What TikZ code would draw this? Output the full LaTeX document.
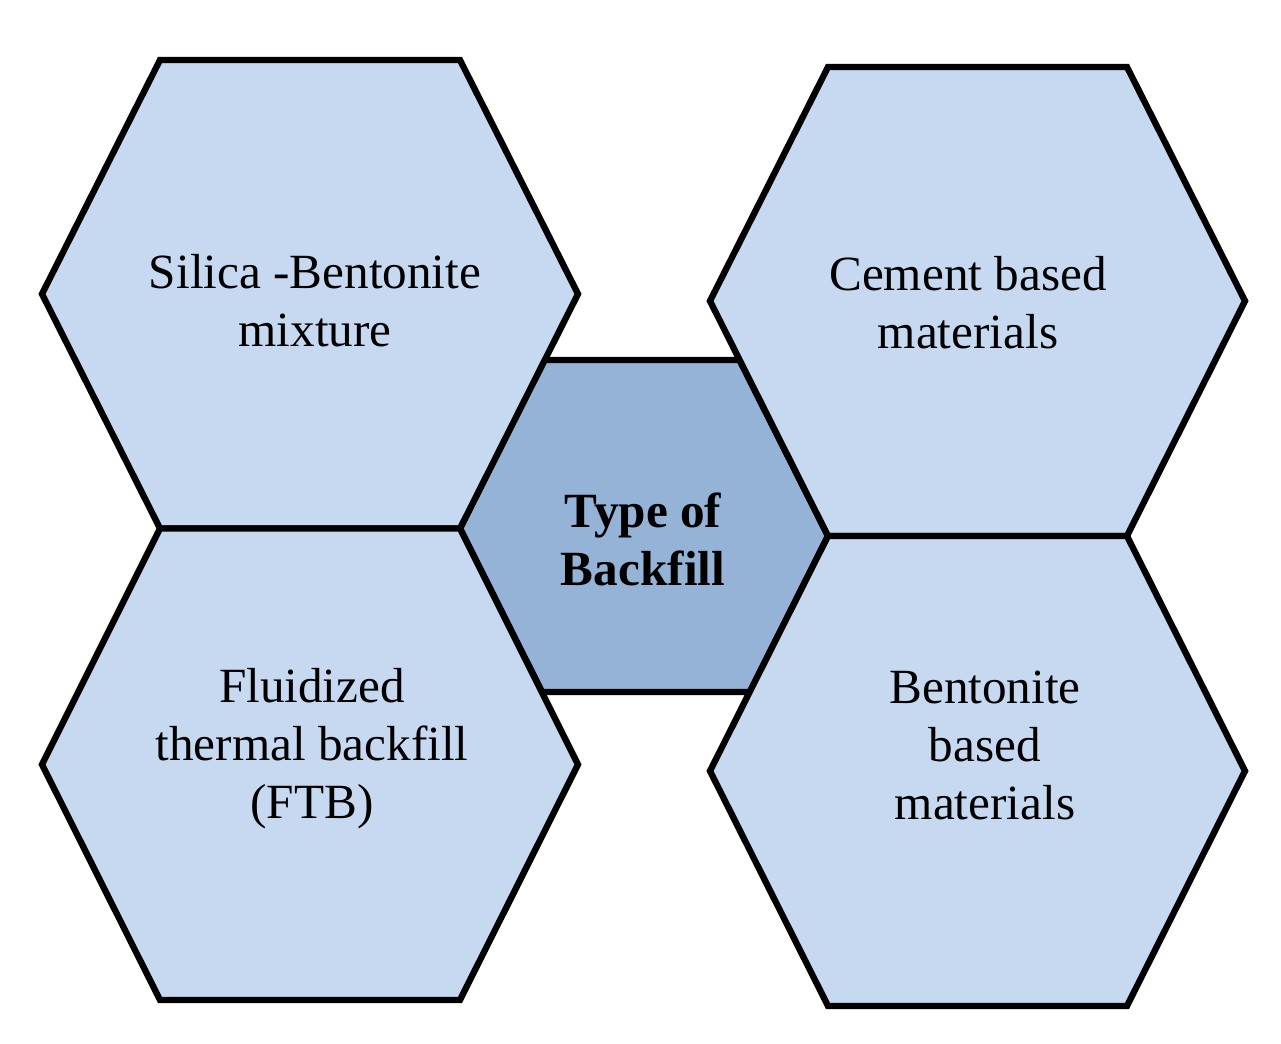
\documentclass[tikz,border=0pt]{standalone}
\usepackage{fontspec}
\setmainfont{Liberation Serif}
\usepackage{tikz}
\usetikzlibrary{positioning}
\definecolor{hexlight}{HTML}{C6D9F0}
\definecolor{hexdark}{HTML}{95B3D7}
\tikzset{
  hexbox/.style={draw=black, line width=3.6pt, fill=hexlight},
  corebox/.style={draw=black, line width=3.6pt, fill=hexdark},
  lbl/.style={font=\fontsize{28}{33}\selectfont, align=center, inner sep=0pt},
  corelbl/.style={font=\fontsize{28}{33}\selectfont\bfseries, align=center, inner sep=0pt},
}

\begin{document}
\begin{tikzpicture}
  \useasboundingbox (0,0) rectangle (25.62,20.88);

  % --- Centre hexagon ---
  \draw[corebox] (9.2,10.31) -- (10.88,13.68) -- (14.79,13.68) -- (16.56,10.16)
    -- (15.0,7.04) -- (10.84,7.04) -- cycle;

  % --- Left column ---
  \draw[hexbox] (0.84,15.0) -- (3.2,19.68) -- (9.2,19.68) -- (11.56,15.0)
    -- (9.2,10.31) -- (3.2,10.31) -- cycle;
  \draw[hexbox] (0.84,5.59) -- (3.2,10.31) -- (9.2,10.31) -- (11.56,5.59)
    -- (9.2,0.88) -- (3.2,0.88) -- cycle;

  % --- Right column ---
  \draw[hexbox] (14.2,14.86) -- (16.56,19.54) -- (22.54,19.54) -- (24.9,14.86)
    -- (22.54,10.16) -- (16.56,10.16) -- cycle;
  \draw[hexbox] (14.2,5.46) -- (16.56,10.16) -- (22.54,10.16) -- (24.9,5.46)
    -- (22.54,0.76) -- (16.56,0.76) -- cycle;

  % Labels
  \node[corelbl] (core) at (12.86,10.1) {Type of\\Backfill};
  \node[lbl] (silica) at (6.3,14.87) {Silica -Bentonite\\mixture};
  \node[lbl] (cement) at (19.36,14.82) {Cement based\\materials};
  \node[lbl] (ftb) at (6.24,5.9) {Fluidized\\thermal backfill\\(FTB)};
  \node[lbl] (bent) at (19.7,5.98) {Bentonite\\based\\materials};
\end{tikzpicture}
\end{document}
